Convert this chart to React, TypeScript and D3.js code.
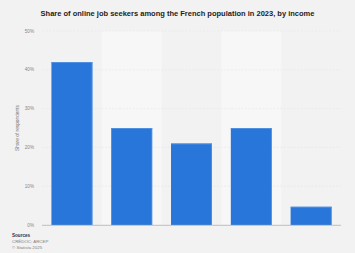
import React from "react";
import * as d3 from "d3";

const categories = ["Under 900 €", "900 - 1,500 €", "1,500 - 2,500 €", "2,500 - 3,500 €", "Over 3,500 €"];
const values = [42, 25, 21, 25, 4.7];
const yTicks = [0, 10, 20, 30, 40, 50];
const title = "Share of online job seekers among the French population in 2023, by income";
const yAxisTitle = "Share of respondents";
const sourceLines = ["CRÉDOC; ARCEP", "© Statista 2025"];

export default function App() {
  const W = 355, H = 253;
  const x = d3.scaleBand().domain(categories).range([42, 341]).paddingInner(0.315).paddingOuter(0.1575);
  const band = d3.scaleBand().domain(categories).range([42, 341]);
  const y = d3.scaleLinear().domain([0, 50]).range([225, 31]);
  const font = "'Liberation Sans', Arial, sans-serif";
  return (
    <svg width={W} height={H} style={{ position: "absolute", left: 0, top: 0, background: "#f2f2f2" }} fontFamily={font}>
      <rect x={0} y={0} width={W} height={H} fill="#f2f2f2" />
      {categories.map((c, i) =>
        i % 2 === 1 ? (
          <rect key={"b" + i} x={band(c)!} y={31} width={band.bandwidth()} height={225 - 31} fill="#f7f7f7" />
        ) : null
      )}
      {yTicks.map((t) => (
        <g key={"t" + t}>
          {t > 0 && (
            <line x1={42} x2={341} y1={y(t)} y2={y(t)} stroke="#e6e6e6" strokeWidth={0.6} strokeDasharray="2,1.5" />
          )}
          <text x={34} y={y(t) + 1.6} textAnchor="end" fontSize={4.6} fill="#858585">
            {t + "%"}
          </text>
        </g>
      ))}
      {categories.map((c, i) => (
        <g key={"bar" + i}>
          <rect x={x(c)!} y={y(values[i])} width={x.bandwidth()} height={225 - y(values[i])} fill="#2876d9" />
          <rect x={x(c)!} y={y(values[i])} width={x.bandwidth()} height={0.8} fill="#5b97e3" />
          <rect x={x(c)! + x.bandwidth() - 0.7} y={y(values[i])} width={0.7} height={225 - y(values[i])} fill="#5b97e3" />
        </g>
      ))}
      <line x1={42} x2={341} y1={225.3} y2={225.3} stroke="#b3b3b3" strokeWidth={0.8} />
      <text x={18.5} y={128} transform="rotate(-90 18.5 128)" textAnchor="middle" fontSize={4.8} fill="#7a7a7a">
        {yAxisTitle}
      </text>
      <text x={177.5} y={15.5} textAnchor="middle" fontSize={7.5} fontWeight="bold" fill="#222">
        {title}
      </text>
      <text x={12} y={236.5} fontSize={4.6} fontWeight="bold" fill="#333">Sources</text>
      {sourceLines.map((s, i) => (
        <text key={s} x={12} y={242.5 + i * 6} fontSize={4.4} fill="#808080">
          {s}
        </text>
      ))}
    </svg>
  );
}
